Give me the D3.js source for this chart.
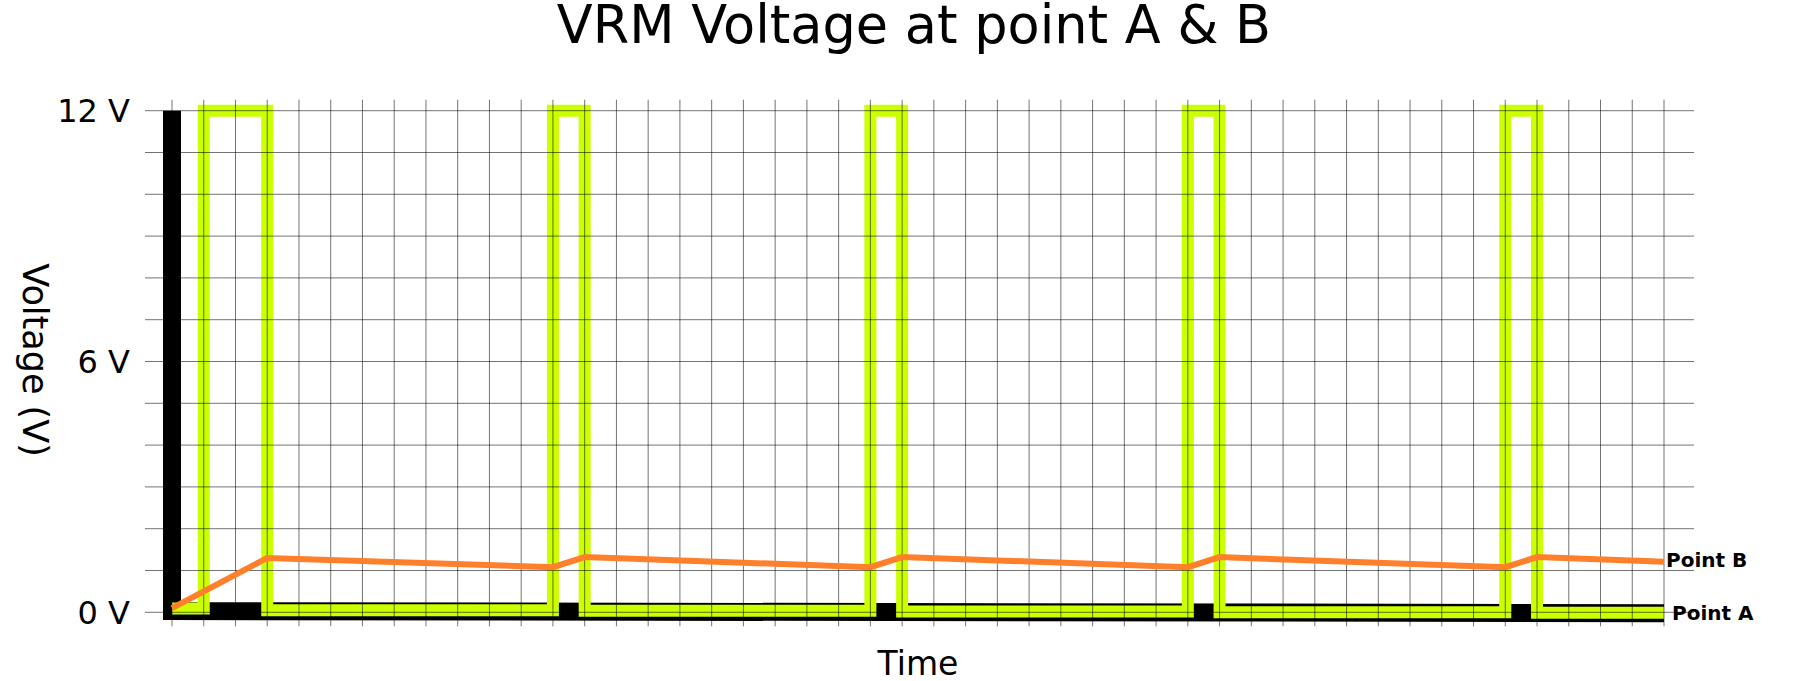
<!DOCTYPE html>
<html>
<head>
<meta charset="utf-8">
<script src="https://cdn.jsdelivr.net/npm/d3@7"></script>
<style>
  html, body { margin: 0; padding: 0; background: #fff; }
  svg { display: block; font-family: "DejaVu Sans", sans-serif; }
</style>
</head>
<body>
<svg id="chart" width="1800" height="681"></svg>
<script>
// === Data ===
// time in grid units, voltage in volts
const pointA = [[0, 12], [0, 0.03], [47, -0.02]];
const pulse = [
  [0, 0.09], [1, 0.09], [1, 12], [3, 12], [3, 0.05],
  [12, 0.05], [12, 12], [13, 12], [13, 0.04],
  [22, 0.04], [22, 12], [23, 12], [23, 0.02],
  [32, 0.02], [32, 12], [33, 12], [33, 0.0],
  [42, 0.0], [42, 12], [43, 12], [43, -0.01], [47, -0.01]
];
const pointB = [
  [0, 0.1], [3, 1.3], [12, 1.08], [13, 1.32], [22, 1.08], [23, 1.32],
  [32, 1.08], [33, 1.32], [42, 1.08], [43, 1.32], [47, 1.21]
];
const yTicks = [0, 6, 12];
const yTickLabels = ['0 V', '6 V', '12 V'];
const timeSteps = d3.range(0, 48);
const voltSteps = d3.range(0, 13);

(function () {
  const svg = d3.select('#chart');

  const x = d3.scaleLinear().domain([0, 47]).range([172, 1664]);
  const y = d3.scaleLinear().domain([0, 12]).range([612.3, 110.7]);

  const line = d3.line().x(d => x(d[0])).y(d => y(d[1]));

  // Point A (black, thick)
  svg.append('path')
    .attr('d', line(pointA))
    .attr('fill', 'none')
    .attr('stroke', '#000')
    .attr('stroke-width', 18)
    .attr('stroke-linejoin', 'miter');

  // switching pulses
  svg.append('path')
    .attr('d', line(pulse))
    .attr('fill', 'none')
    .attr('stroke', '#ccff00')
    .attr('stroke-width', 12)
    .attr('stroke-linejoin', 'miter');

  // Grid on top of the traces, running a bit past the plot on every side
  const grid = svg.append('g').attr('stroke', '#000').attr('stroke-opacity', 0.55).attr('stroke-width', 1);
  grid.selectAll('line.v')
    .data(timeSteps)
    .join('line')
    .attr('class', 'v')
    .attr('x1', d => x(d)).attr('x2', d => x(d))
    .attr('y1', y(12) - 11).attr('y2', y(0) + 14);
  grid.selectAll('line.h')
    .data(voltSteps)
    .join('line')
    .attr('class', 'h')
    .attr('y1', d => y(d)).attr('y2', d => y(d))
    .attr('x1', x(0) - 27).attr('x2', x(47) + 30);

  // Point B (orange)
  svg.append('path')
    .attr('d', line(pointB))
    .attr('fill', 'none')
    .attr('stroke', '#ff7f2a')
    .attr('stroke-width', 6)
    .attr('stroke-linejoin', 'miter');

  // Series labels
  const lastB = pointB[pointB.length - 1];
  const lastA = pointA[pointA.length - 1];
  svg.append('text')
    .attr('x', x(lastB[0]) + 2).attr('y', y(lastB[1]) - 2)
    .attr('dy', '0.35em')
    .attr('font-size', 20).attr('font-weight', 'bold')
    .text('Point B');
  svg.append('text')
    .attr('x', x(lastA[0]) + 8).attr('y', y(lastA[1]))
    .attr('dy', '0.35em')
    .attr('font-size', 20).attr('font-weight', 'bold')
    .text('Point A');

  // Y tick labels
  svg.append('g').selectAll('text')
    .data(yTicks)
    .join('text')
    .attr('x', 130)
    .attr('y', d => y(d))
    .attr('dy', '0.36em')
    .attr('text-anchor', 'end')
    .attr('font-size', 32)
    .text((d, i) => yTickLabels[i]);

  // Title and axis titles
  svg.append('text')
    .attr('x', 914).attr('y', 43)
    .attr('text-anchor', 'middle')
    .attr('font-size', 52.5)
    .text('VRM Voltage at point A & B');
  svg.append('text')
    .attr('x', 918).attr('y', 675)
    .attr('text-anchor', 'middle')
    .attr('font-size', 33)
    .text('Time');
  svg.append('text')
    .attr('transform', 'translate(23,360) rotate(90)')
    .attr('text-anchor', 'middle')
    .attr('font-size', 35)
    .text('Voltage (V)');
})();
</script>
</body>
</html>
